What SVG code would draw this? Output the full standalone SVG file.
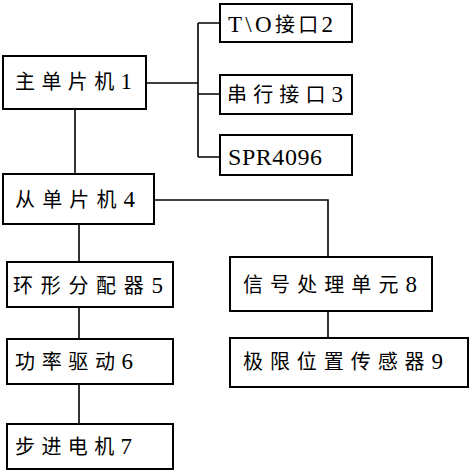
<svg xmlns="http://www.w3.org/2000/svg" width="474" height="476" viewBox="0 0 474 476">
<style>
rect{fill:#fff;stroke:#000;stroke-width:2}
.c{fill:none;stroke:#000;stroke-width:1.6}
text{font-family:"Liberation Serif","Noto Sans CJK SC",serif;font-size:20px;fill:#000}
.d{font-size:23px}
</style>
<rect x="0" y="0" width="474" height="476" style="stroke:none"/>
<g id="connectors">
<path class="c" d="M146 83H198M198 23V157M198 23H220M198 94H220M198 157H220"/>
<path class="c" d="M75 109V174"/>
<path class="c" d="M154 200H328V257"/>
<path class="c" d="M79 224V262M79 307V339M79 384V424"/>
<path class="c" d="M328 311V338"/>
</g>
<g id="n1"><rect x="3" y="56" width="143" height="53"/><text x="15" y="89" textLength="117" lengthAdjust="spacing">主单片机<tspan class="d">1</tspan></text></g>
<g id="n2"><rect x="220" y="4" width="132" height="38"/><text x="228" y="32" textLength="105" lengthAdjust="spacing"><tspan class="d">T\O</tspan>接口<tspan class="d">2</tspan></text></g>
<g id="n3"><rect x="220" y="75" width="132" height="39"/><text x="227" y="102" textLength="116" lengthAdjust="spacing">串行接口<tspan class="d">3</tspan></text></g>
<g id="n10"><rect x="220" y="135" width="132" height="40"/><text x="228" y="165" textLength="94" lengthAdjust="spacing" style="font-size:24px">SPR4096</text></g>
<g id="n4"><rect x="3" y="174" width="151" height="50"/><text x="15" y="207" textLength="120" lengthAdjust="spacing">从单片机<tspan class="d">4</tspan></text></g>
<g id="n5"><rect x="7" y="262" width="166" height="45"/><text x="13" y="293" textLength="150" lengthAdjust="spacing">环形分配器<tspan class="d">5</tspan></text></g>
<g id="n6"><rect x="7" y="339" width="166" height="45"/><text x="15" y="369" textLength="118" lengthAdjust="spacing">功率驱动<tspan class="d">6</tspan></text></g>
<g id="n7"><rect x="7" y="424" width="166" height="45"/><text x="15" y="454" textLength="117" lengthAdjust="spacing">步进电机<tspan class="d">7</tspan></text></g>
<g id="n8"><rect x="230" y="257" width="202" height="54"/><text x="243" y="292" textLength="174" lengthAdjust="spacing">信号处理单元<tspan class="d">8</tspan></text></g>
<g id="n9"><rect x="230" y="338" width="238" height="49"/><text x="243" y="369" textLength="200" lengthAdjust="spacing">极限位置传感器<tspan class="d">9</tspan></text></g>
</svg>
